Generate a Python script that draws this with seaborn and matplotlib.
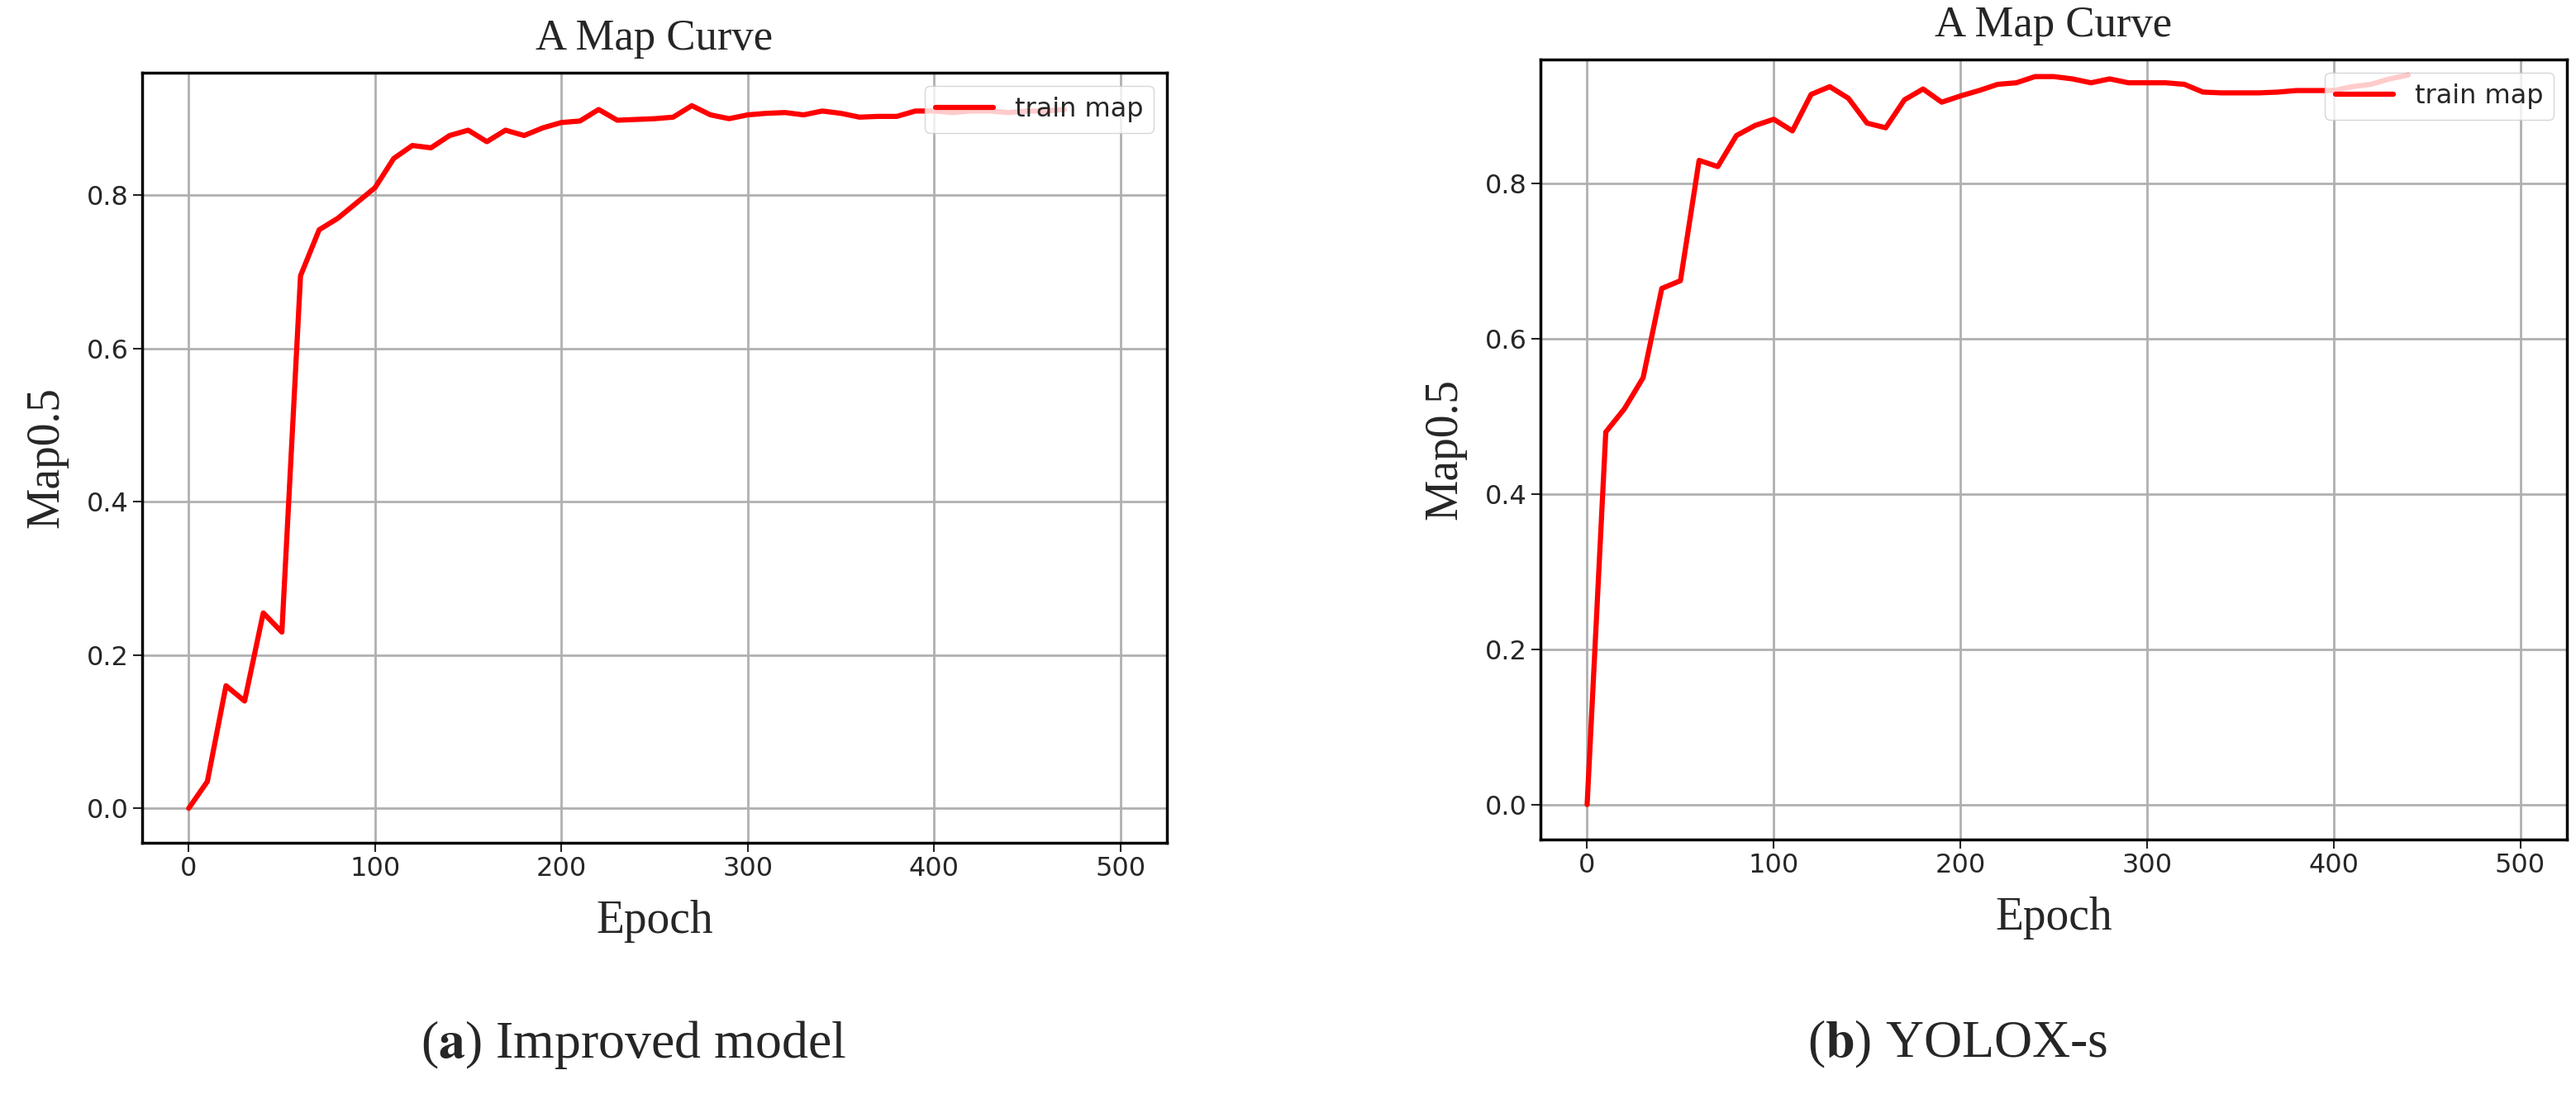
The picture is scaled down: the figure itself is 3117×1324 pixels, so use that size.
import matplotlib
matplotlib.use("Agg")
import matplotlib.pyplot as plt
import seaborn as sns
import pandas as pd
import numpy as np

# mAP0.5 values, one point every 10 epochs
epochs_a = list(range(0, 480, 10))
map_a = [0.0, 0.035, 0.16, 0.14, 0.255, 0.23, 0.695, 0.755, 0.77, 0.79,
         0.81, 0.848, 0.865, 0.862, 0.878, 0.885, 0.870, 0.885, 0.878, 0.888,
         0.895, 0.897, 0.912, 0.898, 0.899, 0.900, 0.902, 0.917, 0.905, 0.900,
         0.905, 0.907, 0.908, 0.905, 0.910, 0.907, 0.902, 0.903, 0.903, 0.910,
         0.910, 0.908, 0.910, 0.910, 0.908, 0.910, 0.910, 0.912]

epochs_b = list(range(0, 450, 10))
map_b = [0.0, 0.48, 0.51, 0.55, 0.665, 0.675, 0.83, 0.822, 0.862, 0.875,
         0.883, 0.868, 0.915, 0.925, 0.91, 0.878, 0.872, 0.908, 0.922, 0.905,
         0.913, 0.92, 0.928, 0.93, 0.938, 0.938, 0.935, 0.93, 0.935, 0.93,
         0.93, 0.93, 0.928, 0.918, 0.917, 0.917, 0.917, 0.918, 0.92, 0.92,
         0.92, 0.925, 0.928, 0.935, 0.94]

captions = [("a", " Improved model"), ("b", " YOLOX-s")]

sns.set_style("white")
plt.rcParams["mathtext.fontset"] = "stix"
serif = "Liberation Serif"

fig = plt.figure(figsize=(31.17, 13.24), dpi=100)
ax_a = fig.add_axes([172 / 3117, 1 - 1020 / 1324, 1240 / 3117, 932 / 1324])
ax_b = fig.add_axes([1864 / 3117, 1 - 1016 / 1324, 1242 / 3117, 944 / 1324])

for ax, ep, mp in [(ax_a, epochs_a, map_a), (ax_b, epochs_b, map_b)]:
    df = pd.DataFrame({"Epoch": ep, "map": mp})
    sns.lineplot(data=df, x="Epoch", y="map", ax=ax, color="red",
                 linewidth=4.5, label="train map")
    ax.set_xlim(-25, 525)
    ax.set_ylim(-0.045, 0.96)
    ax.set_xticks([0, 100, 200, 300, 400, 500])
    ax.set_yticks([0.0, 0.2, 0.4, 0.6, 0.8])
    ax.grid(True, color="#b0b0b0", linewidth=2)
    ax.tick_params(labelsize=23, length=8, width=1.5, left=True, bottom=True)
    for s in ax.spines.values():
        s.set_color("black")
        s.set_linewidth(2.5)
    ax.set_title("A Map Curve", fontsize=38, family=serif, pad=20)
    ax.set_xlabel("Epoch", fontsize=40, family=serif, labelpad=16)
    ax.set_ylabel("Map0.5", fontsize=40, family=serif, labelpad=16)
    ax.legend(loc="upper right", fontsize=23, frameon=True, framealpha=0.8,
              handlelength=2.2)

for (letter, rest), xc in zip(captions, [0.246, 0.76]):
    fig.text(xc, 0.045, r"($\mathbf{" + letter + r"}$)" + rest, ha="center",
             va="center", fontsize=46, family=serif)

fig.savefig("out.png", dpi=100, facecolor="white")
